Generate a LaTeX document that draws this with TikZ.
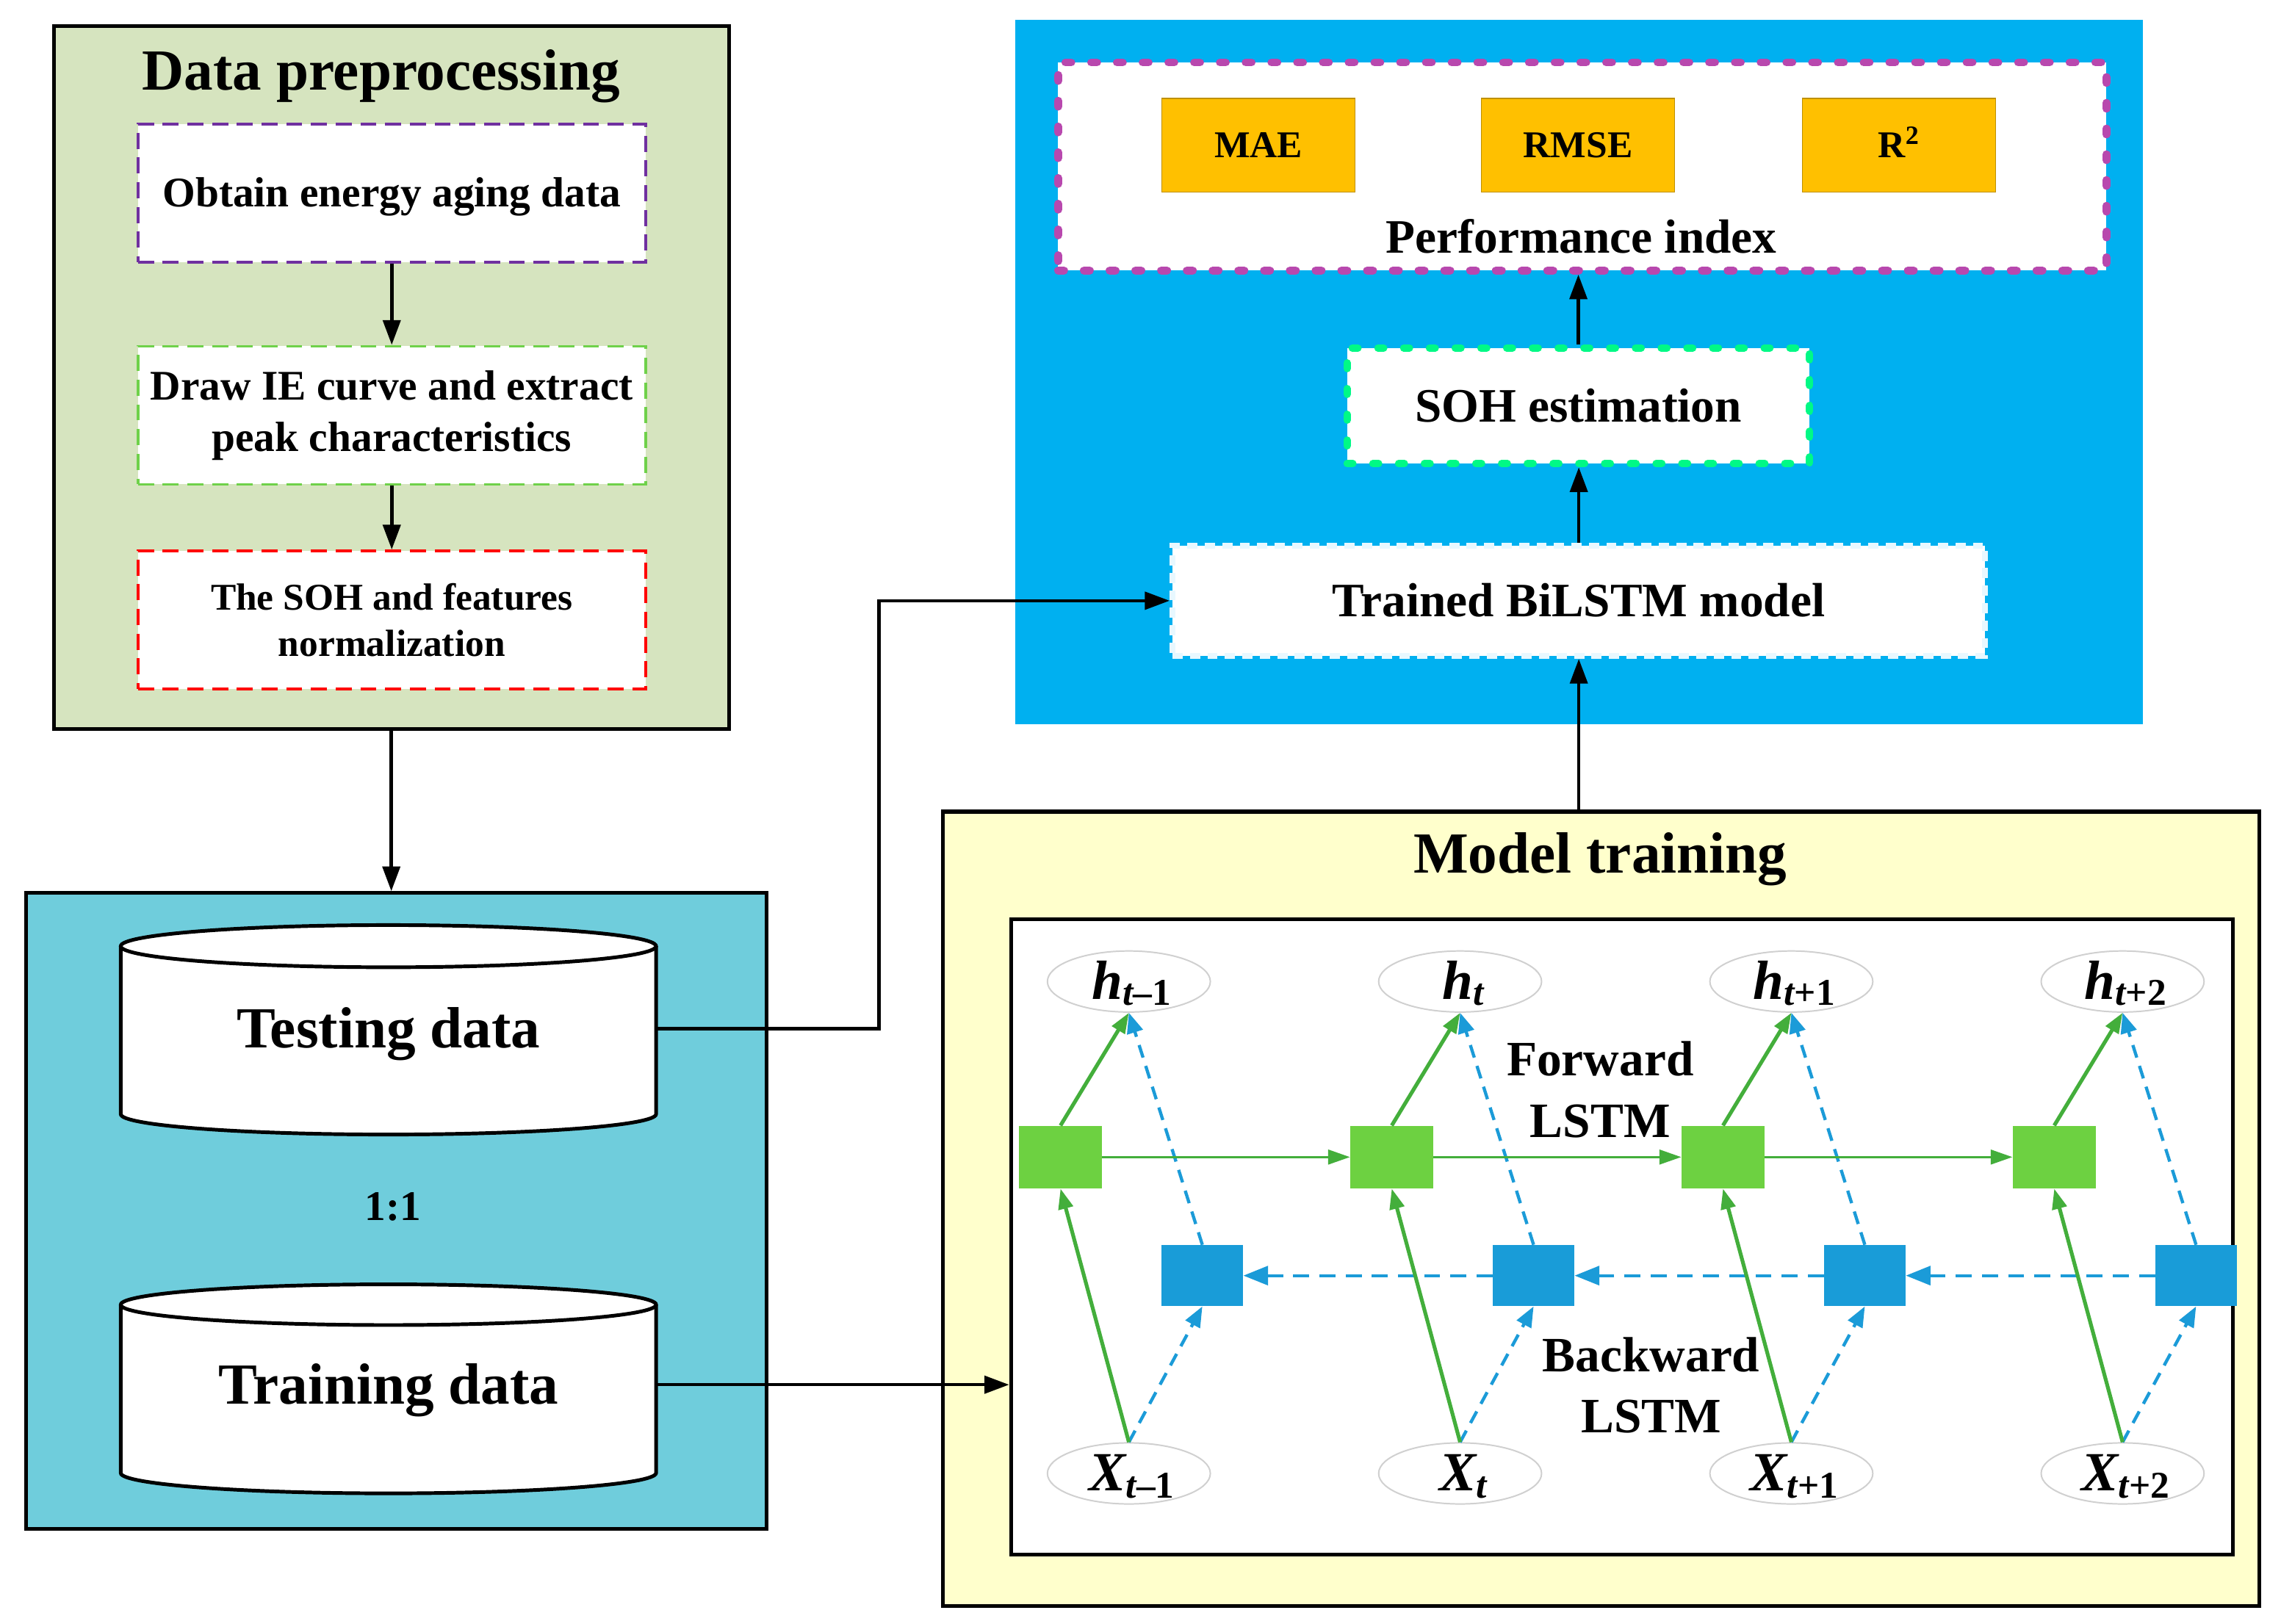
\documentclass[tikz,border=0pt]{standalone}
\usepackage{fontspec}
\setmainfont{Liberation Serif}
\usetikzlibrary{arrows.meta,shapes.geometric,calc}
\definecolor{prepfill}{HTML}{D6E4BF}
\definecolor{datafill}{HTML}{6FCDDC}
\definecolor{topblue}{HTML}{00B0F0}
\definecolor{mtfill}{HTML}{FFFFCC}
\definecolor{idxfill}{HTML}{FFC000}
\definecolor{idxdraw}{HTML}{BF9000}
\definecolor{perfdot}{HTML}{B848AE}
\definecolor{sohdot}{HTML}{00F986}
\definecolor{dpurple}{HTML}{7030A0}
\definecolor{dgreen}{HTML}{6FD14A}
\definecolor{dred}{HTML}{FF0000}
\definecolor{cellg}{HTML}{6DD141}
\definecolor{cellb}{HTML}{199CD8}
\definecolor{lineg}{HTML}{43AE3B}
\definecolor{lineb}{HTML}{1B9BD8}
\definecolor{ellgray}{HTML}{D0D0D0}
\definecolor{trainedb}{HTML}{E8F8FF}
\newcommand{\fsz}[2]{\fontsize{#1}{#2}\selectfont}
\newcommand{\hlab}[1]{{\fsz{38}{38}\bfseries\itshape h}{\fsz{26}{26}\bfseries\raisebox{-4pt}{\itshape t\upshape #1}}}
\newcommand{\xlab}[1]{{\fsz{38}{38}\bfseries\itshape X}{\fsz{26}{26}\bfseries\raisebox{-5pt}{\itshape t\upshape #1}}}
\tikzset{
  panel/.style={draw=black, line width=2.6pt, inner sep=0pt},
  dbox/.style={draw=#1, line width=1.8pt, dash pattern=on 11pt off 6pt, fill=white,
    minimum width=349pt, minimum height=95pt, inner sep=0pt, align=center},
  capt/.style={inner sep=0pt, text height=#1, text depth=0pt},
  idx/.style={draw=idxdraw, line width=0.8pt, fill=idxfill, minimum width=132.8pt,
    minimum height=64.4pt, inner sep=0pt, text height=17.2pt, text depth=0pt,
    font=\fsz{26}{31}\bfseries},
  arr/.style={draw=black, line width=2.3pt, -{Triangle[length=17pt,width=12pt]}},
  cylline/.style={draw=black, line width=2.5pt},
  cyltext/.style={minimum width=368pt, inner sep=0pt, text height=26.5pt, text depth=0pt,
    font=\fsz{40}{48}\bfseries},
  cellgs/.style={fill=cellg, minimum width=57pt, minimum height=43pt, inner sep=0pt},
  cellbs/.style={fill=cellb, minimum width=56pt, minimum height=42pt, inner sep=0pt},
  ell/.style={ellipse, draw=ellgray, line width=1pt, fill=white, minimum width=112pt,
    minimum height=42pt, inner sep=0pt},
  garr/.style={draw=lineg, line width=2.6pt, -{Triangle[length=14pt,width=10pt]}},
  ghor/.style={draw=lineg, line width=1.6pt, -{Triangle[length=15pt,width=10pt]}},
  barr/.style={draw=lineb, line width=2.2pt, dash pattern=on 9pt off 6pt,
    -{Triangle[length=14pt,width=11pt]}},
  bhor/.style={draw=lineb, line width=2.2pt, dash pattern=on 11pt off 7pt,
    -{Triangle[length=17pt,width=13pt]}},
}
\begin{document}
\begin{tikzpicture}[x=1pt,y=-1pt]
\useasboundingbox[fill=white] (0,0) rectangle (1568,1116.5);

% ---------- Data preprocessing ----------
\node[panel, fill=prepfill, minimum width=464pt, minimum height=483pt] (prep) at (269,259.5) {};
\node[capt=26.5pt, font=\fsz{40}{48}\bfseries] (prept) at (262,48.8) {Data preprocessing};
\node[dbox=dpurple, text height=19.2pt, text depth=0pt, font=\fsz{29}{35.4}\bfseries] (ob) at (269.3,132.8) {Obtain energy aging data};
\node[dbox=dgreen, font=\fsz{29}{35.4}\bfseries] (dc) at (269.3,285.5) {Draw IE curve and extract\\peak characteristics};
\node[dbox=dred, font=\fsz{26}{31.6}\bfseries] (nm) at (269.3,426.2) {The SOH and features\\normalization};
\draw[arr] (ob.south) -- (dc.north);
\draw[arr] (dc.south) -- (nm.north);

% ---------- Data split ----------
\node[panel, fill=datafill, minimum width=509pt, minimum height=437pt] (data) at (272.5,832.5) {};
\draw[arr] (prep.south) -- (prep.south |- data.north);

% testing cylinder
\fill[white] (83,650.5) rectangle (451,766);
\fill[white] (267,766) ellipse[x radius=184, y radius=14];
\draw[cylline] (83,650.5) -- (83,766) arc[start angle=180, end angle=0, x radius=184, y radius=14] -- (451,650.5);
\draw[cylline, fill=white] (267,650.5) ellipse[x radius=184, y radius=14.5];
\node[cyltext] (test) at (267,707.2) {Testing data};

% training cylinder
\fill[white] (83,897) rectangle (451,1012.7);
\fill[white] (267,1012.7) ellipse[x radius=184, y radius=14];
\draw[cylline] (83,897) -- (83,1012.7) arc[start angle=180, end angle=0, x radius=184, y radius=14] -- (451,897);
\draw[cylline, fill=white] (267,897) ellipse[x radius=184, y radius=14];
\node[cyltext] (train) at (267,952) {Training data};

\node[capt=19.2pt, font=\fsz{29}{35}\bfseries] (ratio) at (270,829.3) {1:1};

% ---------- Evaluation (top right) ----------
\node[fill=topblue, minimum width=775pt, minimum height=484.5pt, inner sep=0pt] (eval) at (1085.5,255.75) {};
\node[draw=perfdot, fill=white, line width=5.5pt, line cap=round, dash pattern=on 4pt off 13.7pt,
  minimum width=720.6pt, minimum height=143.1pt, inner sep=0pt] (perf) at (1087.7,114.45) {};
\node[idx] (mae) at (865.1,99.8) {MAE};
\node[idx] (rmse) at (1084.75,99.8) {RMSE};
\node[idx] (rsq) at (1305.3,99.8) {R\textsuperscript{2}};
\node[capt=21.8pt, font=\fsz{33}{40}\bfseries] (perft) at (1087,163) {Performance index};
\node[draw=sohdot, fill=white, line width=5pt, line cap=round, dash pattern=on 4pt off 13.7pt,
  minimum width=318pt, minimum height=79.5pt, inner sep=0pt, text height=21.8pt, text depth=0pt,
  font=\fsz{33}{40}\bfseries] (soh) at (1085,279) {SOH estimation};
\node[draw=trainedb, fill=white, line width=4pt, dash pattern=on 7pt off 5pt,
  minimum width=558.6pt, minimum height=76pt, inner sep=0pt, text height=21.8pt, text depth=0pt,
  font=\fsz{33}{40}\bfseries] (trained) at (1085.3,413) {Trained BiLSTM model};
\draw[arr] (trained.north) -- (trained.north |- soh.south);
\draw[arr] (soh.north) -- (soh.north |- perf.south);

% ---------- Model training ----------
\node[panel, fill=mtfill, minimum width=905pt, minimum height=546pt] (mt) at (1100.5,831) {};
\node[capt=26.5pt, font=\fsz{40}{48}\bfseries] (mtt) at (1100,586.8) {Model training};
\node[panel, fill=white, minimum width=839.7pt, minimum height=437.2pt] (lstm) at (1114.85,850.4) {};

\draw[arr] (trained.south |- mt.north) -- (trained.south);
\draw[arr] (test.east) -- ++(153,0) |- (trained.west);
\draw[arr] (train.east) -- (train.east -| lstm.west);

\node[align=center, font=\fsz{34}{42.5}\bfseries, inner sep=0pt] (fwt) at (1100,749) {Forward\\LSTM};
\node[align=center, font=\fsz{34}{41.8}\bfseries, inner sep=0pt] (bwt) at (1135,952.3) {Backward\\LSTM};

\foreach \i/\s in {0/{–1},1/{},2/{+1},3/{+2}} {
  \pgfmathsetmacro{\gx}{729+227.7*\i}
  \pgfmathsetmacro{\bx}{826.5+227.7*\i}
  \pgfmathsetmacro{\ex}{776+227.7*\i}
  \pgfmathsetmacro{\lx}{778+227.7*\i}
  \node[cellgs] (fw\i) at (\gx,795.5) {};
  \node[cellbs] (bw\i) at (\bx,877) {};
  \node[ell] (h\i) at (\ex,674.8) {};
  \node[ell] (x\i) at (\ex,1013) {};
  \node[anchor=base, inner sep=0pt] (hl\i) at (\lx,687) {\hlab{\s}};
  \node[anchor=base, inner sep=0pt] (xl\i) at (\lx,1025) {\xlab{\s}};
}
\foreach \i/\j in {0/1,1/2,2/3} {
  \draw[bhor] (bw\j.west) -- (bw\i.east);
}
\foreach \i in {0,...,3} {
  \draw[barr] (x\i.north) -- (bw\i.south);
  \draw[barr] (bw\i.north) -- (h\i.south);
}
\foreach \i in {0,...,3} {
  \draw[garr] (x\i.north) -- (fw\i.south);
  \draw[garr] (fw\i.north) -- (h\i.south);
}
\foreach \i/\j in {0/1,1/2,2/3} {
  \draw[ghor] (fw\i.east) -- (fw\j.west);
}
\end{tikzpicture}
\end{document}
